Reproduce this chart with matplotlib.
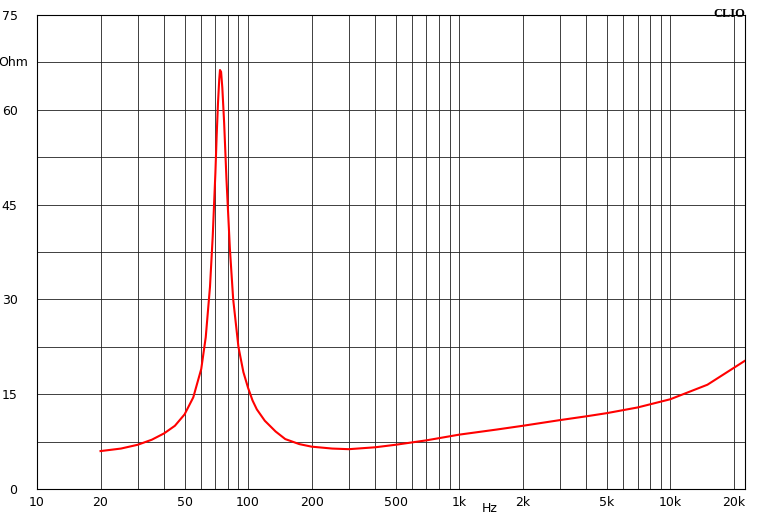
import matplotlib
matplotlib.use("Agg")
import matplotlib.pyplot as plt
import numpy as np

# impedance curve
freq_hz = [20, 25, 30, 35, 40, 45, 50, 55, 60, 63, 66, 68, 70, 71, 72, 73, 73.6, 74.5, 75.5, 77, 79, 82, 85, 90, 95, 100, 105, 110, 120, 135, 150, 175, 200, 250, 300, 400, 500, 700, 1000, 1500, 2000, 3000, 4000, 5000, 7000, 10000, 15000, 22600]
impedance_ohm = [6.0, 6.4, 7.0, 7.8, 8.8, 10.0, 11.8, 14.5, 19.0, 24.0, 32.0, 40.0, 50.0, 56.0, 61.0, 64.8, 66.3, 66.0, 63.5, 58.0, 49.0, 38.0, 30.0, 22.5, 18.5, 16.0, 14.0, 12.6, 10.8, 9.1, 7.9, 7.1, 6.7, 6.4, 6.3, 6.6, 7.0, 7.7, 8.6, 9.4, 10.0, 10.9, 11.5, 12.0, 12.9, 14.2, 16.5, 20.3]

x_ticks = [10, 20, 50, 100, 200, 500, 1000, 2000, 5000, 10000, 20000]
x_labels = ['10', '20', '50', '100', '200', '500', '1k', '2k', '5k', '10k', '20k']
y_ticks = [0, 15, 30, 45, 60, 75]

fig = plt.figure(figsize=(7.68, 5.21), dpi=100)
ax = fig.add_axes([37/768, 1 - 489/521, (745 - 37)/768, (489 - 15)/521])

ax.semilogx(freq_hz, impedance_ohm, color='#ff0000', lw=1.5, zorder=3)
ax.set_xlim(10, 22600)
ax.set_ylim(0, 75)

# grid: every 1-9 per decade, every 7.5 ohm
vlines = [m * 10**d for d in range(1, 5) for m in range(1, 10) if m * 10**d <= 22600]
for v in vlines:
    ax.axvline(v, color='#202020', lw=0.6)
for h in np.arange(7.5, 75, 7.5):
    ax.axhline(h, color='#202020', lw=0.6)

ax.set_xticks(x_ticks)
ax.set_xticklabels(x_labels)
ax.set_xticks([], minor=True)
ax.set_yticks(y_ticks)
ax.tick_params(length=0, labelsize=9)
ax.tick_params(axis='x', pad=5)
ax.tick_params(axis='y', pad=14)
for s in ax.spines.values():
    s.set_color('black')

ax.text(1400, -2.0, 'Hz', ha='center', va='top', fontsize=9)
ax.text(-0.012, 67.5, 'Ohm', transform=ax.get_yaxis_transform(), ha='right', va='center', fontsize=9)
fig.text(0.97, 0.985, 'CLIO', ha='right', va='top', fontsize=9, fontweight='bold', family='Liberation Serif')

fig.savefig('out.png', dpi=100)
